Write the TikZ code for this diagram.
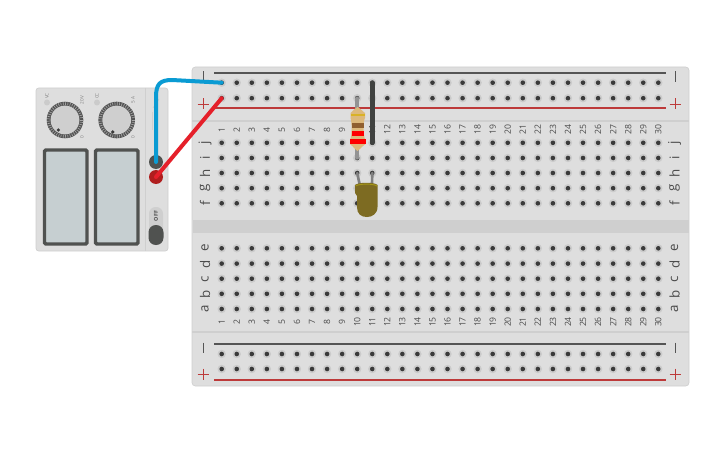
\documentclass[tikz,border=0pt]{standalone}
\usepackage{fontspec}
\setmainfont{Open Sans}
\usetikzlibrary{positioning}
\definecolor{boardgray}{HTML}{DEDEDE}
\definecolor{gutter}{HTML}{CFCFCF}
\definecolor{holering}{HTML}{CBCBCB}
\definecolor{holedark}{HTML}{3A3A3A}
\definecolor{railred}{HTML}{BD3A3A}
\definecolor{railblack}{HTML}{555555}
\definecolor{labelgray}{HTML}{4A4A4A}
\definecolor{wireblue}{HTML}{0A9BD3}
\definecolor{wirered}{HTML}{E5202A}
\definecolor{termred}{HTML}{B01E1E}
\definecolor{screenblue}{HTML}{C6CFD1}
\definecolor{darkpart}{HTML}{505250}
\definecolor{ledbody}{HTML}{7D6B22}
\definecolor{resbody}{HTML}{DDB97C}
\tikzset{
  collabel/.style={rotate=90, text=labelgray, font=\fontsize{6.5}{7}\selectfont, inner sep=0pt},
  rowlabel/.style={rotate=90, text=labelgray, font=\fontsize{10}{11}\selectfont, inner sep=0pt},
  tinylabel/.style={rotate=90, text=gray, font=\fontsize{3.5}{4}\selectfont, inner sep=0pt},
  railline/.style={line width=1.5pt},
  signlabel/.style={line width=0.6pt},
  psuterminal/.style={circle, minimum size=10.5pt, inner sep=0pt},
  wire/.style={line width=3pt, line cap=round, line join=round},
  screen/.style={fill=screenblue, draw=darkpart, line width=2.6pt, rounded corners=1pt}
}
\begin{document}
\begin{tikzpicture}[x=0.75pt,y=-0.75pt]
\useasboundingbox (0,0) rectangle (725,453);
%board
\filldraw[fill=boardgray, draw=gutter, line width=0.5pt, rounded corners=2.5pt] (192,67) rectangle (689,386);
\fill[gutter] (192.5,220) rectangle (688.5,233);
\draw[gutter, line width=1pt] (192,121) -- (689,121);
\draw[gutter, line width=1pt] (192,332) -- (689,332);
%rails
\draw[railblack, railline] (214,73) -- (666,73);
\draw[railred, railline] (214,108.5) -- (666,108.5);
\draw[railblack, railline] (214,344) -- (666,344);
\draw[railred, railline] (214,380) -- (666,380);
%signs
\foreach \sx in {203,675} {
  \draw[railblack, signlabel] (\sx,71.5) -- (\sx,82);
  \draw[railred, signlabel] (\sx-5.5,104) -- (\sx+5.5,104);
  \draw[railred, signlabel] (\sx,98.5) -- (\sx,109.5);
  \draw[railblack, signlabel] (\sx,342.5) -- (\sx,353);
  \draw[railred, signlabel] (\sx-5.5,374) -- (\sx+5.5,374);
  \draw[railred, signlabel] (\sx,368.5) -- (\sx,379.5);
}
%holes
\foreach \c in {1,...,30} {
  \foreach \r/\ry in {p/82.7, q/98.2, j/142.8, i/158, h/173, g/188.2, f/203.3, e/248.3, d/263.6, c/278.7, b/293.8, a/309, s/354, t/369} {
    \pgfmathsetmacro{\hx}{221.7+15.055*(\c-1)}
    \coordinate (\r\c) at (\hx,\ry);
    \fill[holering] (\hx,\ry) circle (4.2);
    \fill[holedark] (\hx,\ry) circle (2.3);
  }
  \pgfmathsetmacro{\hx}{221.7+15.055*(\c-1)}
  \node[collabel] (ctop\c) at (\hx,130) {\c};
  \node[collabel] (cbot\c) at (\hx,322) {\c};
}
%row letters
\foreach \t/\ry in {j/143, i/158, h/173, g/188, f/203, e/248, d/264, c/279, b/294, a/309} {
  \node[rowlabel] (left\t) at (205,\ry) {\t};
  \node[rowlabel] (right\t) at (674.5,\ry) {\t};
}
%power supply
\filldraw[fill=boardgray, draw=gutter, line width=0.5pt, rounded corners=2pt] (36,88) rectangle (168,251);
\draw[gutter, line width=0.7pt] (145,88) -- (145,251);
%marks beside the knobs
\draw[gutter, line width=0.6pt] (152,112) -- (152,130);
\draw[gutter, line width=0.6pt] (157,112) -- (157,130);
\draw[gutter, line width=0.6pt] (153,108) -- (159,99);
%knobs
\foreach \kx/\dx/\dy/\kname in {65/58.3/130/kv, 116.7/112.7/132/ka} {
  \fill[black!68] (\kx,120) circle (18.3);
  \foreach \a in {0,8,...,352}
    \draw[gray!70, line width=0.5pt] (\kx,120) ++(\a:15) -- ++(\a:3);
  \fill[gutter] (\kx,120) circle (14.4);
  \fill[holedark] (\dx,\dy) circle (1.8);
}
\fill[holering] (47,102.5) circle (3);
\fill[holering] (97,102.5) circle (3);
\node[tinylabel] (vclabel) at (47,96) {VC};
\node[tinylabel] (cclabel) at (97,96) {CC};
\node[tinylabel] (vmax) at (82,100) {20 V};
\node[tinylabel] (amax) at (133,100) {5 A};
\node[tinylabel] (vmin) at (82,137) {0};
\node[tinylabel] (amin) at (133,137) {0};
%screens
\draw[screen] (44.5,150) rectangle (87,244);
\draw[screen] (95.5,150) rectangle (138,244);
%switch
\fill[gutter, rounded corners=5pt] (149,207) rectangle (163,245);
\fill[darkpart, rounded corners=5.5pt] (148.5,225) rectangle (163.5,245);
\node[rotate=90, text=labelgray, font=\fontsize{4}{4}\selectfont\bfseries, inner sep=0pt] (offlabel) at (156,216) {OFF};
%terminals
\node[psuterminal, fill=darkpart] (neg) at (156,162) {};
\node[psuterminal, fill=termred] (pos) at (156,177) {};
%resistor
\draw[gray!85, line width=2.6pt, line cap=round] (q10) -- (i10);
\fill[resbody] (350.5,113) .. controls (354,110) and (355,108) .. (357.5,107)
  .. controls (360,108) and (361,110) .. (365,113) -- (365,118)
  .. controls (363,121) and (363,137) .. (365.5,140) -- (365.5,144)
  .. controls (361,147) and (360,150) .. (357.5,151)
  .. controls (355,150) and (354,147) .. (350,144) -- (350,140)
  .. controls (352,137) and (352,121) .. (350.5,118) -- cycle;
\fill[brown!75!black] (352,123.5) rectangle (363.5,128);
\fill[brown!60!yellow] (350.5,114) rectangle (365,116);
\fill[red] (352,131) rectangle (363.5,135.5);
\fill[red] (350,139) rectangle (365.5,143.5);
%jumper
\draw[darkpart!80!black, wire, line width=3.4pt] (p11) -- (j11);
%led
\draw[gray, line width=2pt, line cap=round] (h10) -- (360,186);
\draw[gray, line width=2pt, line cap=round] (h11) -- (372,186);
\fill[ledbody] (355,185) .. controls (358,182) and (375,182) .. (377.5,185)
  -- (377.5,207) .. controls (377.5,214) and (372,217) .. (367,217)
  .. controls (361,217) and (357,214) .. (357,207) -- (357,196) -- (355,193) -- cycle;
\draw[ledbody!70!yellow, line width=0.7pt] (355.5,186) .. controls (359,183.5) and (374,183.5) .. (377,186);
%wires
\draw[wireblue, wire] (neg.center) -- (156,97) .. controls (156,84) and (160,80) .. (172,80) -- (p1);
\draw[wirered, wire] (pos.center) -- (q1);
\end{tikzpicture}
\end{document}
